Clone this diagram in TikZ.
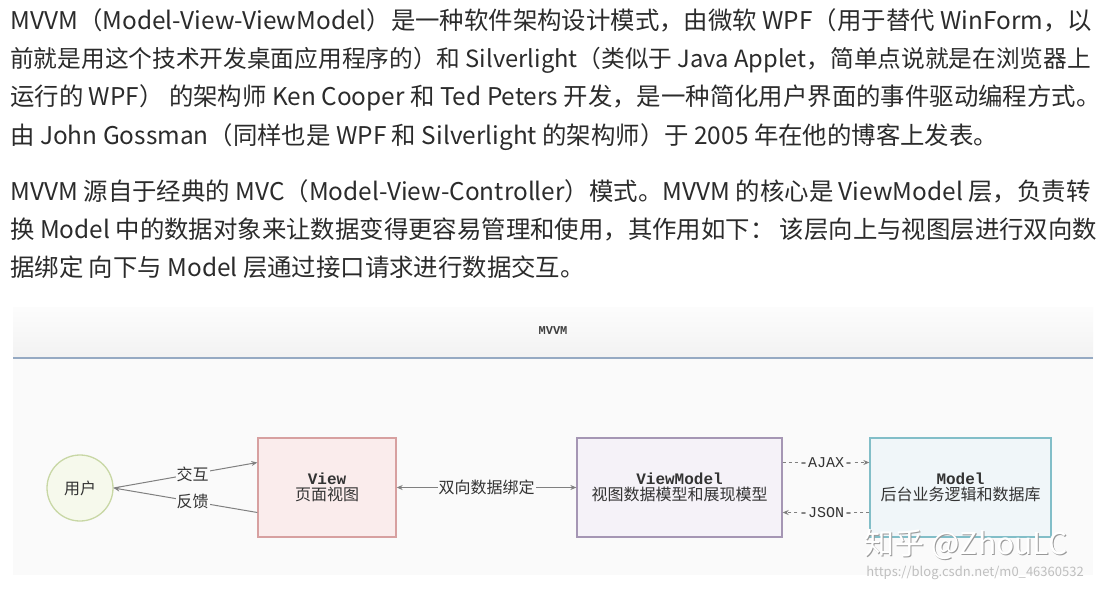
\documentclass[tikz,border=0pt]{standalone}
\usepackage{fontspec}
\setmainfont{Noto Sans CJK SC}
\newfontfamily\cjk{Noto Sans CJK SC}
\newfontfamily\mono{Liberation Mono}
\usetikzlibrary{arrows.meta}
\definecolor{txt}{HTML}{2B2B2B}
\definecolor{lnc}{HTML}{808080}
\tikzset{
 para/.style={anchor=base west,inner sep=0pt,text=txt,font=\fontsize{24.4}{24.4}\selectfont},
 box/.style={draw,line width=1.3pt,minimum height=99pt,align=center,inner sep=0pt,font=\fontsize{16}{18}\selectfont\cjk,text=black!80},
 conn/.style={draw=lnc,line width=1pt,-{Stealth[length=6pt,width=5pt]}},
 lab/.style={font=\fontsize{16}{16}\selectfont\cjk,text=black!80,fill=black!2,inner sep=1pt},
 wmark/.style={font=\fontsize{30}{30}\selectfont\cjk,inner sep=0pt},
}
\begin{document}
\begin{tikzpicture}[x=1pt,y=-1pt]
\useasboundingbox (0,0) rectangle (1108,591);
\fill[white] (0,0) rectangle (1108,591);
\node[para] (l1) at (10,30) {MVVM（Model-View-ViewModel）是一种软件架构设计模式，由微软 WPF（用于替代 WinForm，以};
\node[para,font=\fontsize{23.7}{23.7}\selectfont] (l2) at (10,68) {前就是用这个技术开发桌面应用程序的）和 Silverlight（类似于 Java Applet，简单点说就是在浏览器上};
\node[para] (l3) at (10,106) {运行的 WPF） 的架构师 Ken Cooper 和 Ted Peters 开发，是一种简化用户界面的事件驱动编程方式。};
\node[para] (l4) at (10,144) {由 John Gossman（同样也是 WPF 和 Silverlight 的架构师）于 2005 年在他的博客上发表。};
\node[para] (l5) at (10,200) {MVVM 源自于经典的 MVC（Model-View-Controller）模式。MVVM 的核心是 ViewModel 层，负责转};
\node[para] (l6) at (10,238) {换 Model 中的数据对象来让数据变得更容易管理和使用，其作用如下： 该层向上与视图层进行双向数};
\node[para] (l7) at (10,276) {据绑定 向下与 Model 层通过接口请求进行数据交互。};
% diagram frame
\fill[black!2] (13,307) rectangle (1093,575);
\shade[top color=black!1,bottom color=black!5] (13,307) rectangle (1093,358);
\draw[color={rgb,255:red,150;green,170;blue,195},line width=1.3pt] (13,358) -- (1093,358);
\node[font=\fontsize{12}{12}\selectfont\mono\bfseries,text=black!75] (title) at (553,331) {MVVM};
\node[circle,draw={rgb,255:red,200;green,215;blue,165},fill={rgb,255:red,246;green,249;blue,236},line width=1.3pt,minimum size=66pt,font=\fontsize{16}{16}\selectfont\cjk,text=black!80] (user) at (80,488) {用户};
\node[box,draw={rgb,255:red,215;green,160;blue,160},fill={rgb,255:red,250;green,236;blue,236},minimum width=138pt] (view) at (327,487.5) {{\mono\bfseries View}\\[-2pt]页面视图};
\node[box,draw={rgb,255:red,165;green,150;blue,180},fill={rgb,255:red,245;green,242;blue,248},minimum width=205pt] (vm) at (679.5,487.5) {{\mono\bfseries ViewModel}\\[-2pt]视图数据模型和展现模型};
\node[box,draw={rgb,255:red,130;green,190;blue,200},fill={rgb,255:red,240;green,246;blue,249},minimum width=181pt] (model) at (960.5,487.5) {{\mono\bfseries Model}\\[-2pt]后台业务逻辑和数据库};
\coordinate (ut) at ([yshift=25pt]view.west);
\coordinate (ub) at ([yshift=-25pt]view.west);
\draw[conn] (user.east) -- node[lab,pos=0.55] {交互} (ut);
\draw[conn] (ub) -- node[lab,pos=0.45] {反馈} (user.east);
\draw[draw=lnc,line width=1pt,{Stealth[length=6pt,width=5pt]}-{Stealth[length=6pt,width=5pt]}] (view.east) -- node[lab] {双向数据绑定} (vm.west);
\draw[conn,dashed] ([yshift=25pt]vm.east) -- node[lab,font=\fontsize{15}{15}\selectfont\mono] {-AJAX-} ([yshift=25pt]model.west);
\draw[conn,dashed] ([yshift=-25pt]model.west) -- node[lab,font=\fontsize{15}{15}\selectfont\mono] {-JSON-} ([yshift=-25pt]vm.east);
\node[wmark,text=black!40] (wms) at (967,545) {知乎 @ZhouLC};
\node[wmark,text=white] (wm) at (966,544) {知乎 @ZhouLC};
\node[font=\fontsize{13}{13}\selectfont,text=black!25] (url) at (975,573) {https://blog.csdn.net/m0\_46360532};
\end{tikzpicture}
\end{document}
